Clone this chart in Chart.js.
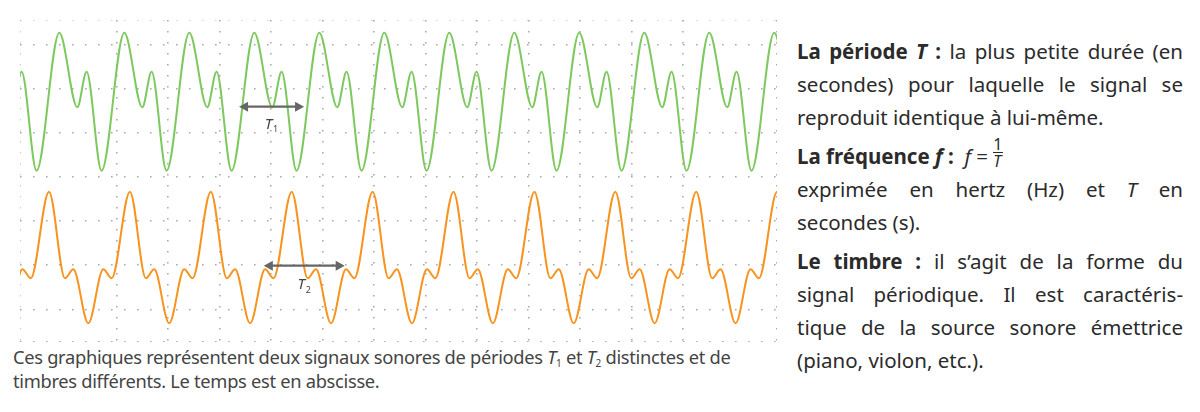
<!DOCTYPE html>
<html><head><meta charset="utf-8">
<script src="https://cdn.jsdelivr.net/npm/chart.js@4"></script>
<style>
body{margin:0;width:1200px;height:412px;background:#fff;position:relative;overflow:hidden;font-family:"Noto Sans",sans-serif;}
#wrap{position:absolute;left:20px;top:20px;width:757px;height:322px;}
#txt{position:absolute;left:797px;top:35px;width:386px;font-size:20.5px;line-height:33px;color:#2b2b2b}
#txt div{text-align:justify;text-align-last:justify;white-space:nowrap}
#txt div.e{text-align-last:left}
#txt .gap{margin-bottom:6px}
#cap{position:absolute;left:13px;top:345px;width:780px;font-size:18.3px;line-height:24px;color:#444;letter-spacing:-0.3px}
#cap sub{font-size:10px;line-height:0;vertical-align:-3px}
.fr{display:inline-block;vertical-align:middle;text-align:center;font-style:normal;font-size:16px;line-height:16px;margin-top:-12px}
.fr span{display:block}
</style></head><body>
<div id="wrap"><canvas id="c"></canvas></div>
<div id="txt">
<div><b>La période <i>T</i> :</b> la plus petite durée (en</div>
<div>secondes) pour laquelle le signal se</div>
<div class="e gap">reproduit identique à lui-même.</div>
<div class="e"><b>La fréquence <i>f</i> :</b> &nbsp;<i>f</i> = <span class="fr"><span style="border-bottom:1.5px solid #2b2b2b">1</span><span><i>T</i></span></span></div>
<div>exprimée en hertz (Hz) et <i>T</i> en</div>
<div class="e gap">secondes (s).</div>
<div><b>Le timbre :</b> il s’agit de la forme du</div>
<div>signal périodique. Il est caractéris-</div>
<div>tique de la source sonore émettrice</div>
<div class="e">(piano, violon, etc.).</div>
</div>
<div id="cap">Ces graphiques représentent deux signaux sonores de périodes <i>T</i><sub>1</sub> et <i>T</i><sub>2</sub> distinctes et de<br>timbres différents. Le temps est en abscisse.</div>
<script>
// one period of each signal (x offsets and levels in grid units)
const greenPeriod = 1.262;
const greenFirstPeak = -0.111;
const greenOffsets = [0, 0.3495, 0.530, 0.821];
const greenLevels  = [6.28, 4.586, 5.394, 3.146];
const orangePeriod = 1.571;
const orangeFirstPeak = -0.311;
const orangeOffsets = [0, 0.311, 0.472, 0.763, 1.054, 1.217];
const orangeLevels  = [2.67, 0.704, 0.908, -0.318, 0.908, 0.704];
const xMin = -0.874, xMax = 13.825, yMin = -0.742, yMax = 6.568;

function build(first, period, offs, levs){
  const pts=[];
  for(let k=-2;k<14;k++){
    offs.forEach((o,i)=>{
      const x=first+k*period+o;
      if(x>xMin-1.6 && x<xMax+1.6) pts.push({x:x,y:levs[i]});
    });
  }
  return pts;
}
const green = build(greenFirstPeak, greenPeriod, greenOffsets, greenLevels);
const orange = build(orangeFirstPeak, orangePeriod, orangeOffsets, orangeLevels);

const arrows = [
  {x1:3.38, x2:3.38+greenPeriod, y:4.6, label:'T', sub:'1', ly:4.2},
  {x1:3.86, x2:3.86+orangePeriod, y:0.99, label:'T', sub:'2', ly:0.55}
];
const arrowPlugin = {id:'arr', afterDatasetsDraw(ch){
  const c=ch.ctx, xs=ch.scales.x, ys=ch.scales.y;
  c.save(); c.strokeStyle='#666'; c.fillStyle='#666'; c.lineWidth=2.2;
  arrows.forEach(a=>{
    const x1=xs.getPixelForValue(a.x1), x2=xs.getPixelForValue(a.x2), y=ys.getPixelForValue(a.y);
    c.beginPath(); c.moveTo(x1+6,y); c.lineTo(x2-6,y); c.stroke();
    [[x1,1],[x2,-1]].forEach(([x,d])=>{c.beginPath();c.moveTo(x,y);c.lineTo(x+9*d,y-5);c.lineTo(x+9*d,y+5);c.closePath();c.fill();});
    const lx=(x1+x2)/2, ly=ys.getPixelForValue(a.ly);
    c.fillStyle='#444'; c.font='italic 15px "Noto Sans"'; c.textAlign='center'; c.textBaseline='middle';
    c.fillText(a.label,lx-3,ly); c.font='9px "Noto Sans"'; c.fillText(a.sub,lx+4,ly+5); c.fillStyle='#666';
  });
  c.restore();
}};

new Chart(document.getElementById('c'),{
  type:'scatter',
  data:{datasets:[
    {data:green, showLine:true, borderColor:'#7ec95f', borderWidth:2, pointRadius:0, cubicInterpolationMode:'monotone'},
    {data:orange, showLine:true, borderColor:'#f7931e', borderWidth:2, pointRadius:0, cubicInterpolationMode:'monotone'}
  ]},
  options:{responsive:true, maintainAspectRatio:false, animation:false, layout:{padding:0},
    plugins:{legend:{display:false}, tooltip:{enabled:false}},
    scales:{
      x:{type:'linear', min:xMin, max:xMax, ticks:{display:false, stepSize:1}, grid:{color:'#aaa', lineWidth:1.6, drawTicks:false}, border:{display:false, dash:[1.6,9.4]}},
      y:{type:'linear', min:yMin, max:yMax, ticks:{display:false, stepSize:1}, grid:{color:'#aaa', lineWidth:1.6, drawTicks:false}, border:{display:false, dash:[1.6,11.4]}}
    }
  },
  plugins:[arrowPlugin]
});
</script></body></html>
